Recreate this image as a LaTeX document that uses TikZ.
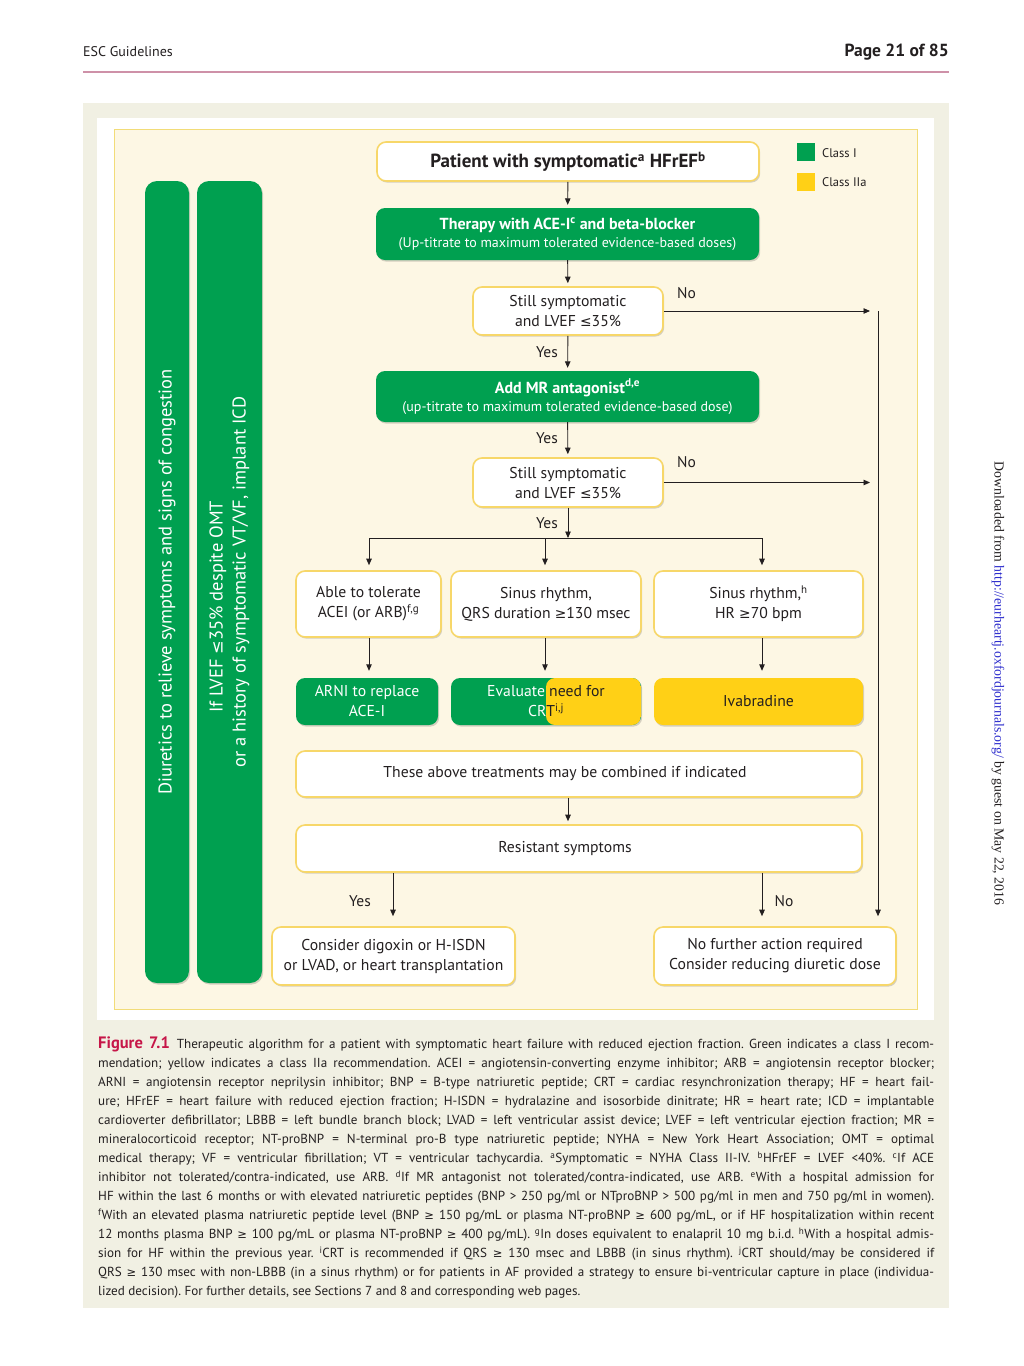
\documentclass[tikz,border=0pt]{standalone}
\usepackage{fontspec}
\setmainfont{PT Sans}
\newfontfamily\seriffont{Liberation Serif}
\newfontfamily\symfont{DejaVu Sans}[Scale=0.88]
\newcommand{\lesym}{{\symfont ≤}}
\newcommand{\gesym}{{\symfont ≥}}
\usetikzlibrary{arrows.meta,shadows,calc}
\definecolor{cgreen}{RGB}{0,160,80}
\definecolor{cyellow}{RGB}{255,208,22}
\definecolor{panelbg}{RGB}{253,247,228}
\definecolor{panelline}{RGB}{242,220,120}
\definecolor{outerbg}{RGB}{241,240,227}
\definecolor{boxline}{RGB}{247,215,105}
\definecolor{darktext}{RGB}{35,31,32}
\definecolor{pinkline}{RGB}{206,145,168}
\definecolor{figred}{RGB}{198,22,72}
\definecolor{linkblue}{RGB}{45,45,205}
\begin{document}
\begin{tikzpicture}[x=1pt,y=-1pt,
  every node/.style={text=darktext},
  softshadow/.style={drop shadow={shadow xshift=1.2pt,shadow yshift=-1.6pt,opacity=0.16,fill=black}},
  wbox/.style={draw=boxline,line width=1.6pt,fill=white,rounded corners=9pt,align=center,inner sep=0pt,font=\fontsize{15.7}{20}\selectfont,softshadow},
  gbox/.style={fill=cgreen,rounded corners=9pt,align=center,inner sep=0pt,text=white,font=\fontsize{15.7}{20}\selectfont,softshadow},
  ybox/.style={fill=cyellow,rounded corners=9pt,align=center,inner sep=0pt,font=\fontsize{15.7}{20}\selectfont,softshadow},
  sidebar/.style={fill=cgreen,rounded corners=12pt,inner sep=0pt,softshadow},
  sidetext/.style={rotate=90,text=white,font=\fontsize{18.5}{22}\selectfont,inner sep=0pt},
  conn/.style={draw=darktext,line width=0.9pt},
  arr/.style={conn,-{Triangle[length=6.5pt,width=5.5pt]},shorten >=3pt},
  lbl/.style={font=\fontsize{15.5}{18}\selectfont,inner sep=1pt},
  legtxt/.style={font=\fontsize{12.5}{14}\selectfont,anchor=west,inner sep=0pt},
]
\useasboundingbox (0,0) rectangle (1024,1366);
\fill[white] (0,0) rectangle (1024,1366);

% header
\node[anchor=base west,inner sep=0pt,font=\fontsize{14}{16}\selectfont] (hdrl) at (83,56) {ESC Guidelines};
\node[anchor=base east,inner sep=0pt,font=\bfseries\fontsize{17.5}{19}\selectfont] (hdrr) at (949,56) {Page 21 of 85};
\draw[pinkline,line width=1.6pt] (83,72) -- (949,72);

% backgrounds
\fill[outerbg] (83,103) rectangle (949,1308);
\fill[white] (97,118) rectangle (934,1020);
\draw[panelline,fill=panelbg,line width=1pt] (114,129) rectangle (917,1009);

% side bars
\node[sidebar,minimum width=44pt,minimum height=802pt] (bar1) at (167,582) {};
\node[sidebar,minimum width=65pt,minimum height=802pt] (bar2) at (229.5,582) {};
\node[sidetext] (bar1t) at (bar1.center) {Diuretics to relieve symptoms and signs of congestion};
\node[sidetext] (bar2a) at (218,607) {If LVEF \lesym35\% despite OMT};
\node[sidetext] (bar2b) at (241,582) {or a history of symptomatic VT/VF, implant ICD};

% legend
\node[fill=cgreen,minimum size=18pt,inner sep=0pt] (leg1) at (806,152) {};
\node[legtxt] (leg1t) at (822,153) {Class I};
\node[fill=cyellow,minimum size=18pt,inner sep=0pt] (leg2) at (806,182) {};
\node[legtxt] (leg2t) at (822,182) {Class IIa};

% main column
\node[wbox,minimum width=382pt,minimum height=39pt,font=\bfseries\fontsize{19}{22}\selectfont] (patient) at (568,161.5) {Patient with symptomatic\textsuperscript{a} HFrEF\textsuperscript{b}};
\node[gbox,minimum width=383pt,minimum height=52pt,font=\fontsize{14}{18}\selectfont] (therapy) at (567.5,234) {{\bfseries\fontsize{16}{18}\selectfont Therapy with ACE-I\textsuperscript{c} and beta-blocker}\\(Up-titrate to maximum tolerated evidence-based doses)};
\node[wbox,minimum width=190pt,minimum height=48pt] (still1) at (568,311) {Still symptomatic\\and LVEF \lesym35\%};
\node[gbox,minimum width=383pt,minimum height=51pt,font=\fontsize{14}{18}\selectfont] (mra) at (567.5,396.5) {{\bfseries\fontsize{16}{18}\selectfont Add MR antagonist\textsuperscript{d,e}}\\(up-titrate to maximum tolerated evidence-based dose)};
\node[wbox,minimum width=190pt,minimum height=49pt] (still2) at (568,482.5) {Still symptomatic\\and LVEF \lesym35\%};

\node[wbox,minimum width=145pt,minimum height=66pt] (boxA) at (368.5,604) {Able to tolerate\\ACEI (or ARB)\textsuperscript{f,g}};
\node[wbox,minimum width=190pt,minimum height=66pt] (boxB) at (546,604) {Sinus rhythm,\\QRS duration \gesym130 msec};
\node[wbox,minimum width=209pt,minimum height=66pt] (boxC) at (758.5,604) {Sinus rhythm,\textsuperscript{h}\\HR \gesym70 bpm};

\node[gbox,minimum width=142pt,minimum height=47pt] (arni) at (367,701.5) {ARNI to replace\\ACE-I};
\node[gbox,minimum width=190pt,minimum height=47pt,text=darktext,
  path picture={\fill[cyellow] (path picture bounding box.north) rectangle (path picture bounding box.south east);}] (crt) at (546,701.5) {{\color{white}Evaluate }need for\\{\color{white}CR}T\textsuperscript{i,j}};
\node[ybox,minimum width=209pt,minimum height=47pt] (ivab) at (758.5,701.5) {Ivabradine};

\node[wbox,minimum width=566pt,minimum height=46pt] (combined) at (579,774) {These above treatments may be combined if indicated\hspace*{28pt}};
\node[wbox,minimum width=566pt,minimum height=47pt] (resist) at (579,848.5) {Resistant symptoms\hspace*{28pt}};

\node[wbox,minimum width=243pt,minimum height=58pt] (digoxin) at (393.5,956) {Consider digoxin or H-ISDN\\or LVAD, or heart transplantation};
\node[wbox,minimum width=242pt,minimum height=58pt] (nofurther) at (775,956) {No further action required\\Consider reducing diuretic dose};

% connectors
\coordinate (brA) at (369,538);
\coordinate (brB) at (545,538);
\coordinate (brC) at (762,538);
\coordinate (noend) at (870,311);
\coordinate (vtop) at (878,311);
\coordinate (yesx) at (393,872);

\draw[arr] (patient) -- (therapy);
\draw[arr] (therapy) -- (still1);
\draw[arr] (still1) -- (mra);
\draw[arr] (mra) -- (still2);
\draw[arr,shorten >=0pt] (still2) -- (still2.south |- brB);
\draw[conn] (brA) -- (brC);
\draw[arr,shorten >=5pt] (brA) -- (brA |- boxA.north);
\draw[arr,shorten >=5pt] (brB) -- (brB |- boxB.north);
\draw[arr,shorten >=5pt] (brC) -- (brC |- boxC.north);
\draw[arr,shorten >=7pt] (boxA.south -| brA) -- (arni.north -| brA);
\draw[arr,shorten >=7pt] (boxB.south -| brB) -- (crt.north -| brB);
\draw[arr,shorten >=7pt] (boxC.south -| brC) -- (ivab.north -| brC);
\draw[arr] (combined.south -| still1) -- (resist.north -| still1);
\draw[arr,shorten >=10pt] (resist.south -| yesx) -- (digoxin.north -| yesx);
\draw[arr,shorten >=10pt] (resist.south -| brC) -- (nofurther.north -| brC);
\draw[arr,shorten >=0pt] (still1.east) -- (still1.east -| noend);
\draw[arr,shorten >=0pt] (still2.east) -- (still2.east -| noend);
\draw[arr,shorten >=10pt] (vtop) -- (vtop |- nofurther.north);

% labels
\node[lbl,anchor=east] (yes1) at (559,352) {Yes};
\node[lbl,anchor=east] (yes2) at (559,438) {Yes};
\node[lbl,anchor=east] (yes3) at (559,523) {Yes};
\node[lbl,anchor=west] (no1) at (676,293) {No};
\node[lbl,anchor=west] (no2) at (676,462) {No};
\node[lbl] (yes4) at (360,901) {Yes};
\node[lbl] (no3) at (784,901) {No};

% margin note
\node[rotate=-90,inner sep=0pt,font=\seriffont\fontsize{13.8}{15}\selectfont] (dl) at (998,683.5) {Downloaded from {\color{linkblue}http://eurheartj.oxfordjournals.org/} by guest on May 22, 2016};

% caption
\node[anchor=north west,inner sep=0pt,text width=836pt,align=left,font=\fontsize{13.1}{19}\selectfont] (cap) at (98,1036.5) {\noindent\frenchspacing\spaceskip=0pt\xspaceskip=0pt
\makebox[836pt][s]{{\color{figred}\bfseries\fontsize{16.5}{19}\selectfont Figure 7.1}\hspace{7pt}Therapeutic algorithm for a patient with symptomatic heart failure with reduced ejection fraction. Green indicates a class I recom-}\\
\makebox[836pt][s]{mendation; yellow indicates a class IIa recommendation. ACEI = angiotensin-converting enzyme inhibitor; ARB = angiotensin receptor blocker;}\\
\makebox[836pt][s]{ARNI = angiotensin receptor neprilysin inhibitor; BNP = B-type natriuretic peptide; CRT = cardiac resynchronization therapy; HF = heart fail-}\\
\makebox[836pt][s]{ure; HFrEF = heart failure with reduced ejection fraction; H-ISDN = hydralazine and isosorbide dinitrate; HR = heart rate; ICD = implantable}\\
\makebox[836pt][s]{cardioverter defibrillator; LBBB = left bundle branch block; LVAD = left ventricular assist device; LVEF = left ventricular ejection fraction; MR =}\\
\makebox[836pt][s]{mineralocorticoid receptor; NT-proBNP = N-terminal pro-B type natriuretic peptide; NYHA = New York Heart Association; OMT = optimal}\\
\makebox[836pt][s]{medical therapy; VF = ventricular fibrillation; VT = ventricular tachycardia. \textsuperscript{a}Symptomatic = NYHA Class II-IV. \textsuperscript{b}HFrEF = LVEF <40\%. \textsuperscript{c}If ACE}\\
\makebox[836pt][s]{inhibitor not tolerated/contra-indicated, use ARB. \textsuperscript{d}If MR antagonist not tolerated/contra-indicated, use ARB. \textsuperscript{e}With a hospital admission for}\\
\makebox[836pt][s]{HF within the last 6 months or with elevated natriuretic peptides (BNP > 250 pg/ml or NTproBNP > 500 pg/ml in men and 750 pg/ml in women).}\\
\makebox[836pt][s]{\textsuperscript{f}With an elevated plasma natriuretic peptide level (BNP \gesym{} 150 pg/mL or plasma NT-proBNP \gesym{} 600 pg/mL, or if HF hospitalization within recent}\\
\makebox[836pt][s]{12 months plasma BNP \gesym{} 100 pg/mL or plasma NT-proBNP \gesym{} 400 pg/mL). \textsuperscript{g}In doses equivalent to enalapril 10 mg b.i.d. \textsuperscript{h}With a hospital admis-}\\
\makebox[836pt][s]{sion for HF within the previous year. \textsuperscript{i}CRT is recommended if QRS \gesym{} 130 msec and LBBB (in sinus rhythm). \textsuperscript{j}CRT should/may be considered if}\\
\makebox[836pt][s]{QRS \gesym{} 130 msec with non-LBBB (in a sinus rhythm) or for patients in AF provided a strategy to ensure bi-ventricular capture in place (individua-}\\
lized decision). For further details, see Sections 7 and 8 and corresponding web pages.};
\end{tikzpicture}
\end{document}
